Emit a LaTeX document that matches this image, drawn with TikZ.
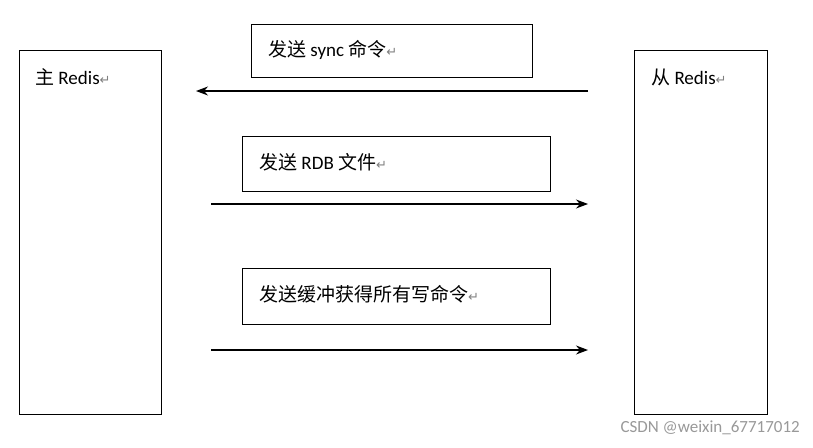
\documentclass[tikz,border=0pt]{standalone}
\usepackage{fontspec}
\usetikzlibrary{arrows.meta}
\setmainfont{Carlito}
\newfontfamily\cjk{Noto Sans CJK SC}
\newfontfamily\sym{DejaVu Sans}
\begin{document}
\begin{tikzpicture}[x=1pt,y=-1pt,
  box/.style={draw,line width=0.9pt},
  lbl/.style={anchor=west,inner sep=0pt,font=\fontsize{19}{22}\selectfont},
  arr/.style={line width=1.1pt,-{Stealth[length=12pt,width=9pt]}}]
\useasboundingbox (0,0) rectangle (813,447);
\fill[white] (0,0) rectangle (813,447);
\newcommand{\rt}{{\sym\color{gray}\fontsize{13}{14}\selectfont ↵}}
\draw[box] (19,50) rectangle (161,414);
\draw[box] (634,50) rectangle (767,414);
\draw[box] (251,24) rectangle (532,77);
\draw[box] (242,136) rectangle (550,191);
\draw[box] (242,268) rectangle (550,324);
\node[lbl] (m) at (35,77) {{\cjk 主} Redis\rt};
\node[lbl] (s) at (651,77) {{\cjk 从} Redis\rt};
\node[lbl] (t1) at (268,50) {{\cjk 发送} sync {\cjk 命令}\rt};
\node[lbl] (t2) at (259,162) {{\cjk 发送} RDB {\cjk 文件}\rt};
\node[lbl] (t3) at (259,294) {{\cjk 发送缓冲获得所有写命令}\rt};
\coordinate (a1s) at (588,91); \coordinate (a1e) at (196,91);
\coordinate (a2s) at (211,204); \coordinate (a2e) at (588,204);
\coordinate (a3s) at (211,350); \coordinate (a3e) at (588,350);
\draw[arr] (a1s) -- (a1e);
\draw[arr] (a2s) -- (a2e);
\draw[arr] (a3s) -- (a3e);
\node[anchor=east,inner sep=0pt,text=gray!80,font=\fontsize{17}{19}\selectfont] (w) at (800,428) {CSDN @weixin\_67717012};
\end{tikzpicture}
\end{document}
